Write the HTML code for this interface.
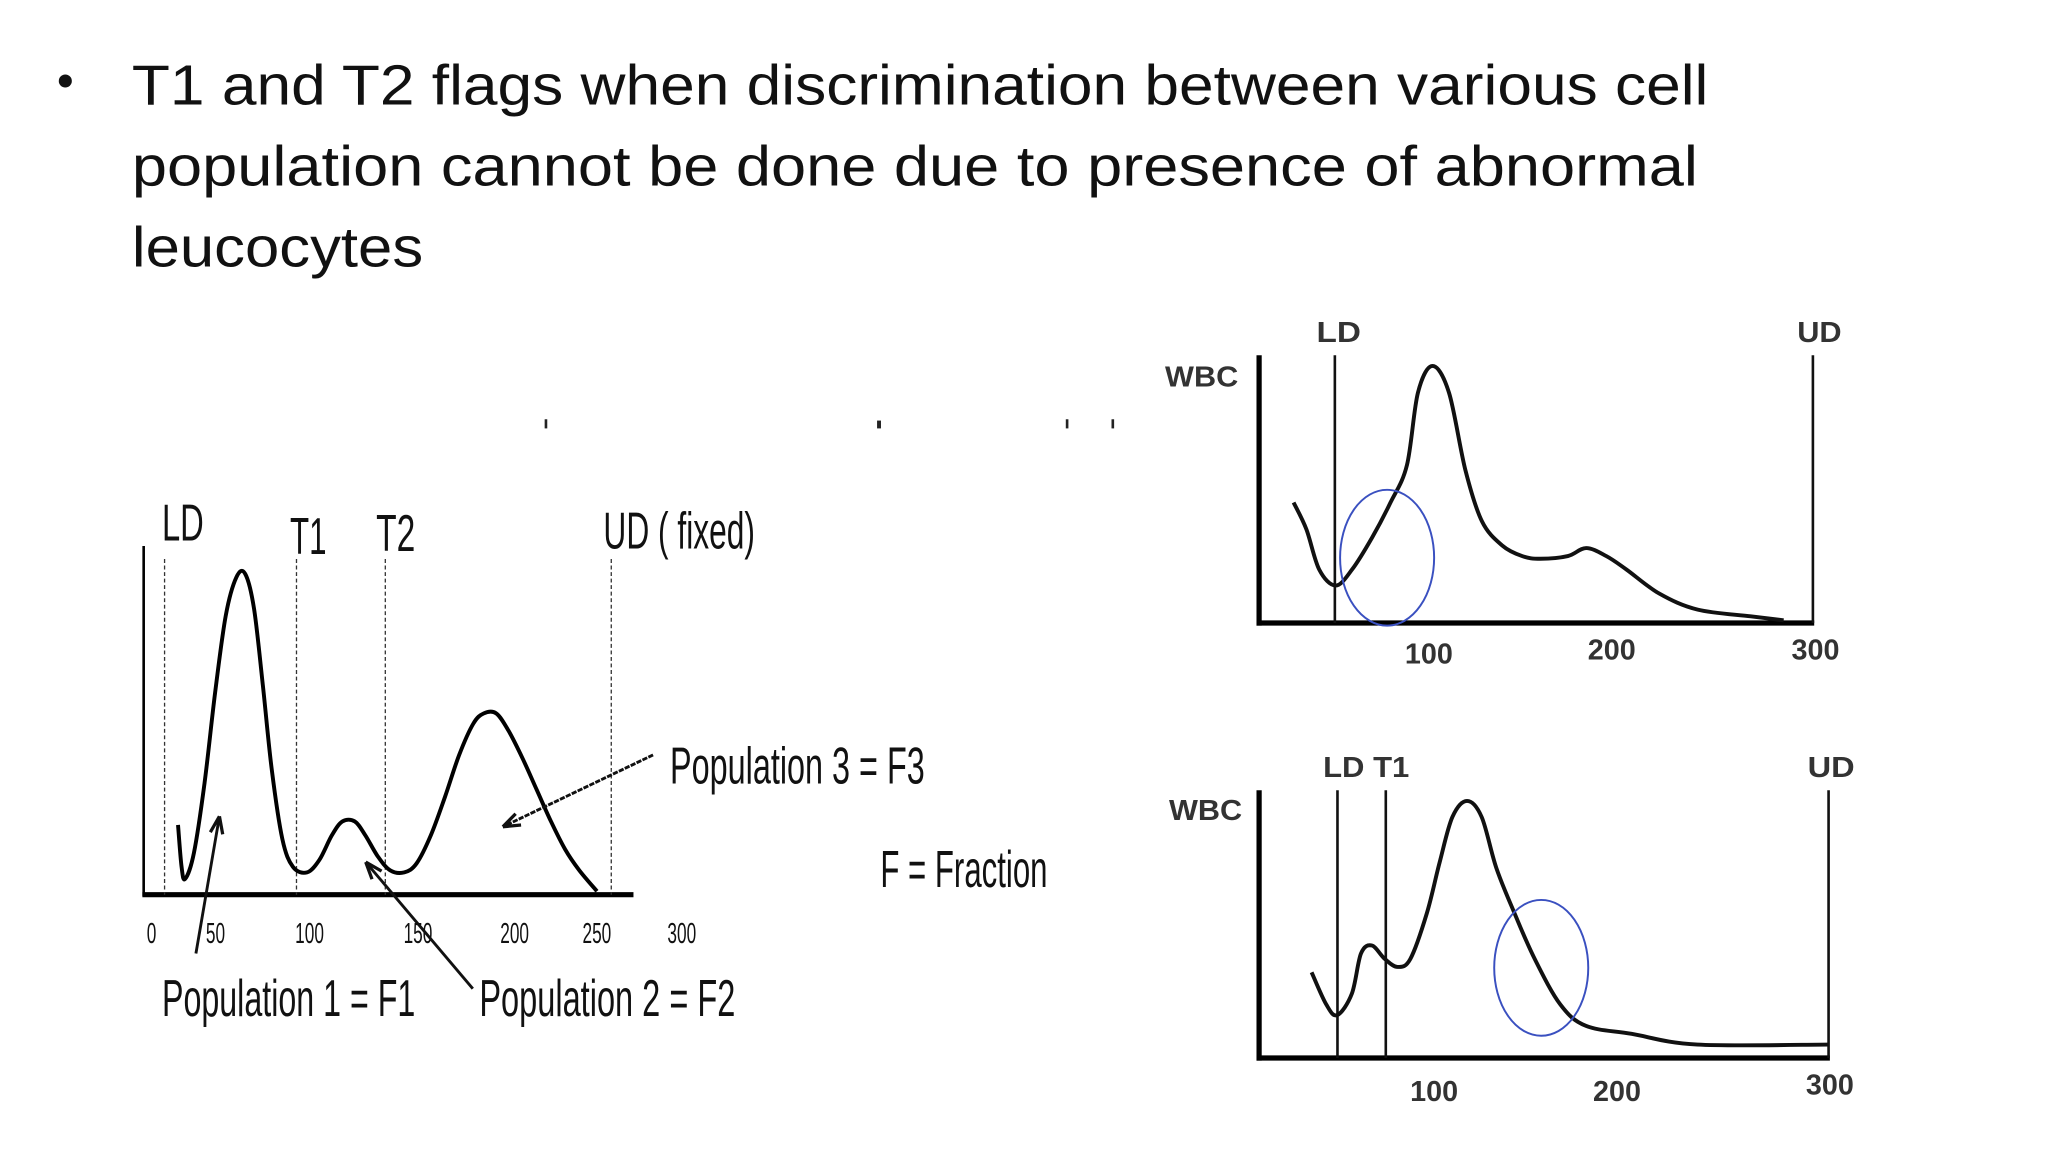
<!DOCTYPE html>
<html><head><meta charset="utf-8"><style>
html,body{margin:0;padding:0;background:#fff;}
svg{display:block;}
.t{font-family:"Liberation Sans",sans-serif;}
</style></head><body>
<svg id="s" width="2048" height="1152" viewBox="0 0 1568 882" xmlns="http://www.w3.org/2000/svg">
<g class="t" font-size="43" fill="#111">
<circle cx="50" cy="62" r="5" fill="#111"/>
<text x="101" y="80" textLength="1207" lengthAdjust="spacingAndGlyphs">T1 and T2 flags when discrimination between various cell</text>
<text x="101" y="142" textLength="1199" lengthAdjust="spacingAndGlyphs">population cannot be done due to presence of abnormal</text>
<text x="101" y="204" textLength="223" lengthAdjust="spacingAndGlyphs">leucocytes</text>
</g>
<g stroke="#222" stroke-width="2">
<line x1="418" y1="321" x2="418" y2="328"/><line x1="673" y1="322" x2="673" y2="328" stroke-width="3"/><line x1="817" y1="321" x2="817" y2="328"/><line x1="852" y1="321" x2="852" y2="328"/>
</g>
<g id="left"></g>
<g id="rt"></g>
<g id="rb"></g>
</svg>
<script>
// Left diagram data
const leftV=[15,17,19,24,30,36,42,48,53,58,63,68,74,80,88,95,102,108,115,121,128,135,143,150,158,166,174,182,188,195,202,210,218,226,234,242,252];
const leftC=[20,8,4.5,12,32,58,80,91,92,82,60,36,16,8,6.4,10,17,21,21,17,11,7,6.4,9,17,28,40,49,52,52,47,39,30,21,13,7,1];
const leftTicks=[0,50,100,150,200,250,300];
const leftTickX=[116,165,237,320,394,457,522];
// Top-right data
const topV=[26,33,40,49,58,69,79,88,94,102,111,120,129,140,151,161,176,186,197,208,226,247,276,294];
const topC=[45,35,20,14,20,32,45,59,86,96,86,57,38,29,25,24,25,28,25,20,11,5,2.5,1];
// Bottom-right data
const botV=[33,41,47,55,60,66,73,80,87,96,103,110,118,126,134,144,155,169,183,208,244,316];
const botC=[32,20,16,24,39,42,37,34,37,54,73,90,96,90,71,54,37,20,12,9,5,5];
const rightTicks=[100,200,300];

const NS="http://www.w3.org/2000/svg";
function el(p,tag,attrs,txt){const e=document.createElementNS(NS,tag);for(const k in attrs)e.setAttribute(k,attrs[k]);if(txt!==undefined)e.textContent=txt;p.appendChild(e);return e;}
function smooth(pts){let d="M"+pts[0][0]+","+pts[0][1];for(let i=0;i<pts.length-1;i++){const p0=pts[i-1]||pts[i],p1=pts[i],p2=pts[i+1],p3=pts[i+2]||p2;const c1x=p1[0]+(p2[0]-p0[0])/6,c1y=p1[1]+(p2[1]-p0[1])/6,c2x=p2[0]-(p3[0]-p1[0])/6,c2y=p2[1]-(p3[1]-p1[1])/6;d+=" C"+c1x+","+c1y+" "+c2x+","+c2y+" "+p2[0]+","+p2[1];}return d;}

// LEFT
(function(){
const g=document.getElementById('left');
const X=v=>116+v*(522-116)/300, Y=c=>685-c*2.67;
let a=el(g,'line',{x1:110,y1:418,x2:110,y2:686,stroke:'#000','stroke-width':2});
a=el(g,'line',{x1:109,y1:685,x2:485,y2:685,stroke:'#000','stroke-width':4});
[[126,'ld-line'],[227,'t1-line'],[295,'t2-line'],[468,'ud-line']].forEach(([x,n])=>{const l=el(g,'line',{x1:x,y1:428,x2:x,y2:685,stroke:'#333','stroke-width':1,'stroke-dasharray':'3,2'});});
const p=el(g,'path',{d:smooth(leftV.map((v,i)=>[X(v),Y(leftC[i])])),fill:'none',stroke:'#000','stroke-width':3});

leftTicks.forEach((t,i)=>{const e=el(g,'text',{x:leftTickX[i],y:722,'text-anchor':'middle',class:'t','font-size':22,fill:'#111',transform:'translate('+leftTickX[i]+',0) scale(0.6,1) translate('+(-leftTickX[i])+',0)'},String(t));});
function lab(x,y,w,s,txt,n){const e=el(g,'text',{x:x,y:y,class:'t','font-size':s,fill:'#111',textLength:w,lengthAdjust:'spacingAndGlyphs'},txt);}
lab(124,414,32,40,'LD','ld-label');lab(222,424,28,40,'T1','t1-label');lab(288,422,30,40,'T2','t2-label');
lab(462,420,116,40,'UD ( fixed)','ud-label');
lab(513,600,195,40,'Population 3 = F3','population-3-label');
lab(674,679,128,40,'F = Fraction','fraction-label');
lab(124,778,194,40,'Population 1 = F1','population-1-label');
lab(367,778,196,40,'Population 2 = F2','population-2-label');
function arrow(x1,y1,x2,y2,n){const ag=el(g,'g',{});
el(ag,'line',{x1,y1,x2,y2,stroke:'#111','stroke-width':2.2,'stroke-dasharray':n==='population-3-arrow'?'4,1':'none'});
const ang=Math.atan2(y2-y1,x2-x1),L=14,w=0.35;
el(ag,'path',{d:`M${x2},${y2} L${x2-L*Math.cos(ang-w)},${y2-L*Math.sin(ang-w)} M${x2},${y2} L${x2-L*Math.cos(ang+w)},${y2-L*Math.sin(ang+w)}`,stroke:'#111','stroke-width':2.5,fill:'none'});}
arrow(500,578,385,633,'population-3-arrow');
arrow(150,730,168,625,'population-1-arrow');
arrow(362,757,280,660,'population-2-arrow');
})();

function rightChart(id,cfg){
const g=document.getElementById(id);
const X=v=>cfg.x0+v*1.4, Y=c=>cfg.base-c*2.05;
let a=el(g,'line',{x1:964,y1:cfg.top,x2:964,y2:cfg.base+2,stroke:'#000','stroke-width':4});
a=el(g,'line',{x1:962,y1:cfg.base,x2:cfg.ud+1,y2:cfg.base,stroke:'#000','stroke-width':4});
cfg.lines.forEach(([x,n])=>{const l=el(g,'line',{x1:x,y1:cfg.top,x2:x,y2:cfg.base,stroke:'#111','stroke-width':2});});
const p=el(g,'path',{d:smooth(cfg.v.map((v,i)=>[X(v),Y(cfg.c[i])])),fill:'none',stroke:'#111','stroke-width':3,'stroke-linejoin':'round'});

const c=el(g,'ellipse',{cx:cfg.cx,cy:cfg.cy,rx:36,ry:52,fill:'none',stroke:'#3a50c0','stroke-width':1.5});
rightTicks.forEach((t,i)=>{const e=el(g,'text',{x:cfg.tx[i],y:cfg.ty[i],'text-anchor':'middle',class:'t','font-size':22,'font-weight':'bold',fill:'#333'},String(t));});
cfg.labels.forEach(([x,y,w,txt,n])=>{const e=el(g,'text',{x,y,class:'t','font-size':22,'font-weight':'bold',fill:'#333',textLength:w,lengthAdjust:'spacingAndGlyphs'},txt);});
}
rightChart('rt',{x0:954,base:477,top:272,ud:1388,v:topV,c:topC,cx:1062,cy:427,
lines:[[1022,'ld-line'],[1388,'ud-line']],tx:[1094,1234,1390],ty:[508,505,505],
labels:[[1008,262,34,'LD','ld-label'],[1376,262,34,'UD','ud-label'],[892,296,56,'WBC','wbc-label']]});
rightChart('rb',{x0:958,base:810,top:605,ud:1400,v:botV,c:botC,cx:1180,cy:741,
lines:[[1024,'ld-line'],[1061,'t1-line'],[1400,'ud-line']],tx:[1098,1238,1401],ty:[843,843,838],
labels:[[1013,595,66,'LD T1','ld-t1-label'],[1384,595,36,'UD','ud-label'],[895,628,56,'WBC','wbc-label']]});
</script>
</body></html>
